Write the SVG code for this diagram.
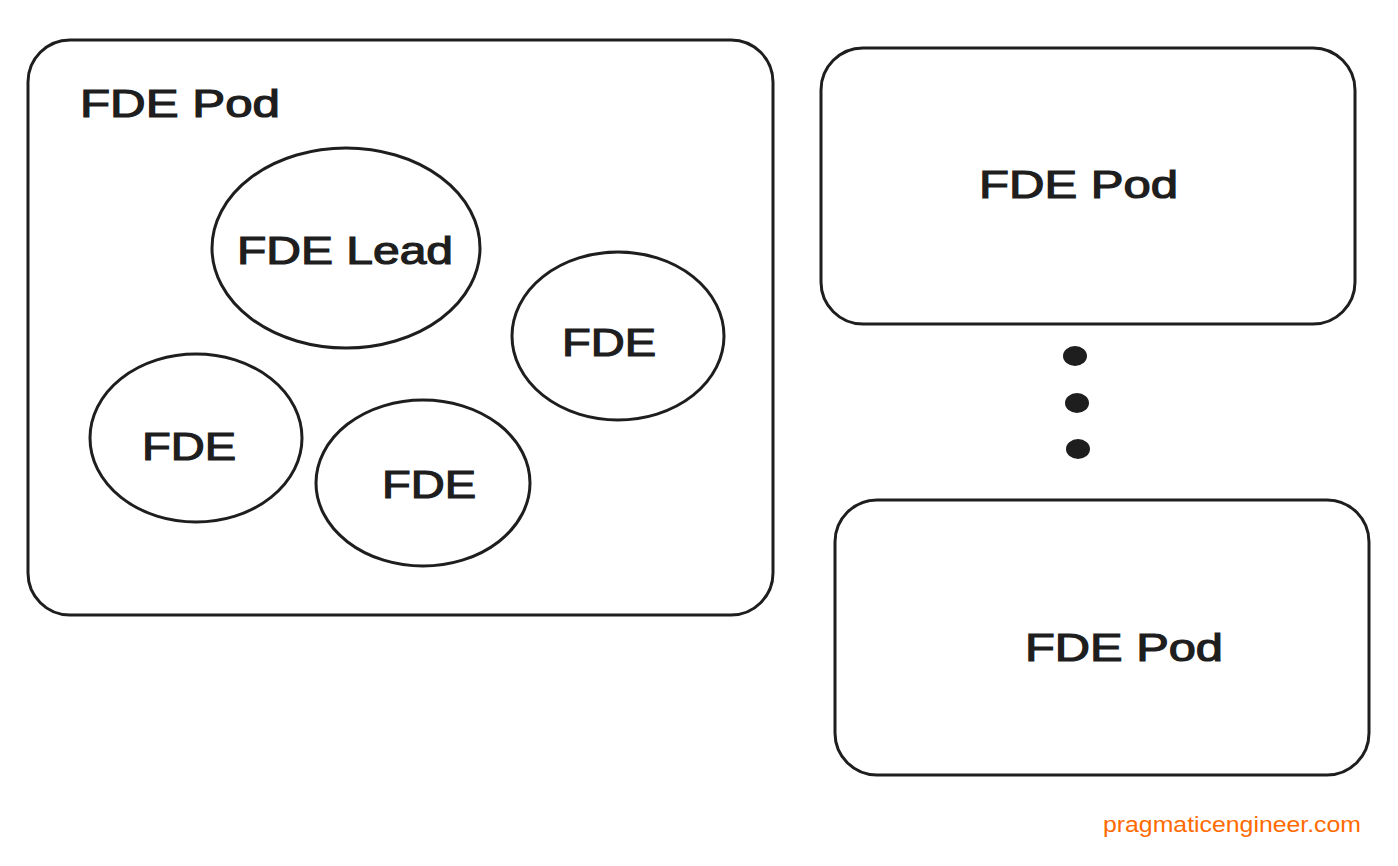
<svg xmlns="http://www.w3.org/2000/svg" width="1398" height="866" viewBox="0 0 1398 866">
<style>
.sh{fill:none;stroke:#1e1e1e;stroke-width:3;stroke-linecap:round;stroke-linejoin:round}
.t{font-family:"Liberation Sans","DejaVu Sans",sans-serif;font-size:38px;fill:#1e1e1e;stroke:#1e1e1e;stroke-width:1.2}
.dot{fill:#1e1e1e}
.wm{font-family:"Liberation Sans",Arial,sans-serif;font-size:22px;fill:#ff6a00}
</style>
<rect width="1398" height="866" fill="#ffffff"/>
<g id="pod-main">
<rect class="sh" x="28" y="40" width="745" height="575" rx="42" ry="42"/>
<text class="t" x="80" y="117" textLength="200" lengthAdjust="spacingAndGlyphs">FDE Pod</text>
</g>
<g id="fde-lead">
<ellipse class="sh" cx="346" cy="248" rx="134" ry="100"/>
<text class="t" x="237" y="264" textLength="216" lengthAdjust="spacingAndGlyphs">FDE Lead</text>
</g>
<g id="fde-right">
<ellipse class="sh" cx="618" cy="336" rx="106" ry="84"/>
<text class="t" x="562" y="356" textLength="94" lengthAdjust="spacingAndGlyphs">FDE</text>
</g>
<g id="fde-left">
<ellipse class="sh" cx="196" cy="438" rx="106" ry="84"/>
<text class="t" x="142" y="460" textLength="94" lengthAdjust="spacingAndGlyphs">FDE</text>
</g>
<g id="fde-mid">
<ellipse class="sh" cx="423" cy="483" rx="107" ry="83"/>
<text class="t" x="382" y="498" textLength="94" lengthAdjust="spacingAndGlyphs">FDE</text>
</g>
<g id="pod-top">
<rect class="sh" x="821" y="48" width="534" height="276" rx="42" ry="42"/>
<text class="t" x="979" y="198" textLength="199" lengthAdjust="spacingAndGlyphs">FDE Pod</text>
</g>
<g id="dots">
<ellipse class="dot" cx="1075" cy="356" rx="12" ry="10"/>
<ellipse class="dot" cx="1077" cy="403" rx="12" ry="10"/>
<ellipse class="dot" cx="1078" cy="449" rx="12" ry="10"/>
</g>
<g id="pod-bottom">
<rect class="sh" x="835" y="500" width="534" height="275" rx="42" ry="42"/>
<text class="t" x="1025" y="661" textLength="198" lengthAdjust="spacingAndGlyphs">FDE Pod</text>
</g>
<g id="connectors"></g>
<text class="wm" x="1103" y="832" textLength="258" lengthAdjust="spacingAndGlyphs">pragmaticengineer.com</text>
</svg>
